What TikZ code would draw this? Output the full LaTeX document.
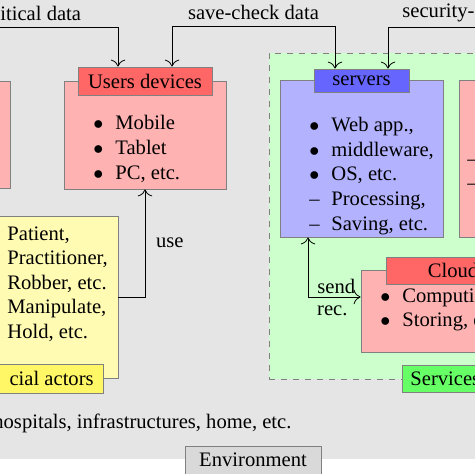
\documentclass[tikz,border=0pt]{standalone}
\usepackage{fontspec}
\setmainfont{Liberation Serif}
\usepackage{tikz}
\usetikzlibrary{arrows.meta}

\newcommand{\itm}{\makebox[11pt][l]{$\bullet$}}
\newcommand{\dsh}{\makebox[11pt][l]{--}}

\begin{document}
\begin{tikzpicture}[x=0.5pt, y=-0.5pt, >={To[scale=1.4]},
    font=\fontsize{10.3pt}{12.3pt}\selectfont,
    box/.style={draw=gray, inner sep=0pt},
    title/.style={draw=gray, inner sep=0pt},
    items/.style={align=left, inner sep=0pt, anchor=west}]
    \useasboundingbox (0,0) rectangle (474,474);

    % environment
    \node[fill=gray!20, inner sep=0pt, minimum width=247pt, minimum height=234.5pt] (env) at (237,224.5) {};
    \node[anchor=west, inner sep=0pt] (place) at (-7,423) {hospitals, infrastructures, home, etc.};
    \node[title, fill=gray!30, minimum width=68pt, minimum height=14pt] (envl) at (253,460) {Environment};

    % devices
    \node[box, fill=red!30, minimum width=80pt, minimum height=53.5pt] (lb) at (-70,134.5) {};
    \node[box, fill=red!30, minimum width=81pt, minimum height=54pt] (ud) at (145,135) {};
    \node[title, fill=red!60, minimum width=67pt, minimum height=14pt] (udt) at (145,81) {Users devices};
    \node[items] (udi) at (93,149) {\itm Mobile\\ \itm Tablet\\ \itm PC, etc.};

    % actors
    \node[box, fill=yellow!30, minimum width=81pt, minimum height=81pt] (act) at (37,297) {};
    \node[items] (acti) at (7,284) {Patient,\\ Practitioner,\\ Robber, etc.\\ Manipulate,\\ Hold, etc.};
    \node[title, fill=yellow!60, minimum width=52pt, minimum height=14.5pt, anchor=east] (actl) at (104,378.5) {cial actors\hspace{11pt}};

    % services
    \node[box, fill=green!20, draw=gray, dashed, minimum width=215.5pt, minimum height=163pt] (svc) at (484.5,216) {};
    \node[box, fill=blue!30, minimum width=81.5pt, minimum height=78.5pt] (sv) at (361.5,158.5) {};
    \node[title, fill=blue!60, minimum width=47.5pt, minimum height=11.5pt] (svt) at (361.5,80.5) {servers};
    \node[items] (svi) at (309,176) {\itm Web app.,\\ \itm middleware,\\ \itm OS, etc.\\ \dsh Processing,\\ \dsh Saving, etc.};
    \node[box, fill=red!30, minimum width=81.5pt, minimum height=78.5pt] (rb) at (540.5,158.5) {};
    \node[items] (rbi) at (467,175) {--\\ --};
    \node[box, fill=red!30, minimum width=81pt, minimum height=41pt] (cl) at (442,311) {};
    \node[title, fill=red!60, minimum width=67pt, minimum height=13.5pt] (clt) at (453,270.5) {Cloud};
    \node[items] (cli) at (380,310) {\itm Computing,\\ \itm Storing, etc.};
    \node[title, fill=green!60, minimum height=13.5pt, inner xsep=4pt, anchor=west] (svcl) at (402,378.5) {Services};

    % data flows
    \coordinate (crit) at (-10,27);
    \coordinate (sec) at (484,27);
    \node[anchor=west, inner sep=0pt] (critl) at (0,13) {itical data};
    \node[anchor=west, inner sep=0pt] (secl) at (402,13) {security-};

    \draw[->] (crit) -| ([xshift=-13.5pt]udt.north);
    \draw[<->] ([xshift=13.5pt]udt.north) -- ++(0,20pt) -| node[pos=0.25, above] {save-check data} ([xshift=-13.25pt]svt.north);
    \draw[->] (sec) -| ([xshift=13.25pt]svt.north);
    \draw[->] (act.east) -| node[pos=0.75, right, xshift=2pt] {use} (ud.south);
    \draw[<->] ([xshift=-26.75pt]sv.south) |- node[pos=0.75, above, inner sep=1.5pt, xshift=1pt] {send} node[pos=0.75, below, inner sep=4pt, xshift=-1pt] {rec.} ([yshift=7pt]cl.west);
\end{tikzpicture}
\end{document}
